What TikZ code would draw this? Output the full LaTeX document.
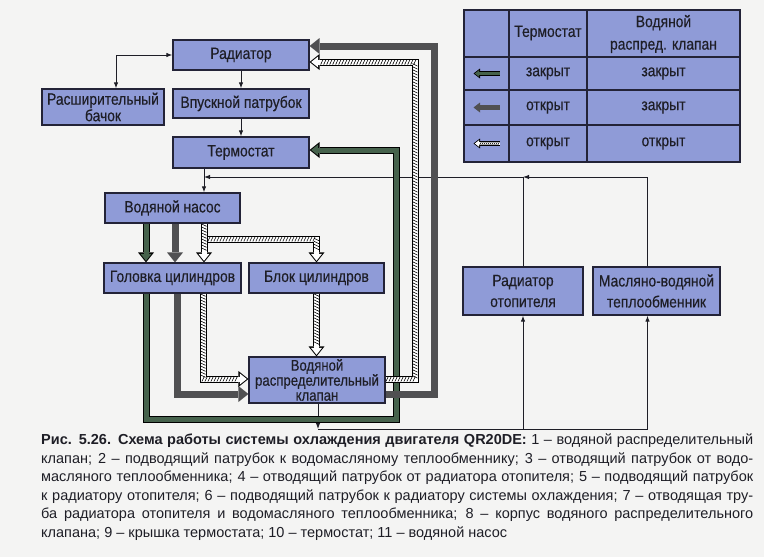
\documentclass[tikz,border=0pt]{standalone}
\usepackage{fontspec}
\setmainfont{Liberation Sans}
\newfontfamily\narrowfam[FakeStretch=0.85,FakeBold=0.3]{Liberation Sans}
\usetikzlibrary{arrows.meta,positioning,decorations.markings}

\definecolor{paper}{RGB}{244,244,243}
\definecolor{boxblue}{RGB}{143,155,215}
\definecolor{boxline}{RGB}{35,35,55}
\definecolor{ink}{RGB}{30,30,38}
\definecolor{pipegray}{RGB}{80,80,82}
\definecolor{pipegreen}{RGB}{70,98,76}

\newcommand{\boxfont}{\narrowfam\fontsize{16.3}{16.5}\selectfont}
\newcommand{\tightfont}{\narrowfam\fontsize{15.5}{15}\selectfont}
\newcommand{\loosefont}{\narrowfam\fontsize{16.3}{21}\selectfont}
\newcommand{\capfont}{\fontsize{14.5}{18.5}\selectfont}

\tikzset{
  box/.style={draw=boxline, fill=boxblue, line width=1.2pt, minimum width=136pt,
    minimum height=30pt, inner sep=1pt, font=\boxfont, text=ink, align=center},
  cell/.style={font=\boxfont, text=ink, align=center, inner sep=0pt},
  tableline/.style={draw=boxline, line width=1.4pt},
  link/.style={draw=ink, line width=1pt, >={Latex[length=6pt,width=4.5pt]}, ->},
  graypipe/.style={draw=pipegray, line width=7pt,
    -{Triangle[width=16pt,length=10pt,line width=0pt]}},
  greenpipe/.style={draw=pipegreen, line width=5pt, shorten >=1.6pt,
    -{Triangle[width=11.2pt,length=7pt,line width=0pt]},
    preaction={draw=black, line width=7pt, shorten >=0pt,
      -{Triangle[width=16pt,length=10pt,line width=0pt]}}},
  hatchpipe/.style={draw=white, line width=5pt, shorten >=1.6pt,
    -{Triangle[width=11.2pt,length=7pt,line width=0pt]},
    preaction={draw=black, line width=7pt, shorten >=0pt,
      -{Triangle[width=16pt,length=10pt,line width=0pt]}},
    postaction={decorate, decoration={markings,
      mark=between positions 1.5pt and -11pt step 3pt with
        {\draw[black, line width=0.6pt, shorten >=0pt, -] (-1.2pt,-2.5pt) -- (1.2pt,2.5pt);}}}},
  smallgray/.style={draw=pipegray, line width=4.5pt,
    -{Triangle[width=10pt,length=6.5pt,line width=0pt]}},
  smallgreen/.style={draw=pipegreen, line width=3pt, shorten >=1.4pt,
    -{Triangle[width=6.8pt,length=4.3pt,line width=0pt]},
    preaction={draw=black, line width=4.6pt, shorten >=0pt,
      -{Triangle[width=10pt,length=6.5pt,line width=0pt]}}},
  smallhatch/.style={draw=white, line width=3pt, shorten >=1.4pt,
    -{Triangle[width=6.8pt,length=4.3pt,line width=0pt]},
    preaction={draw=black, line width=4.6pt, shorten >=0pt,
      -{Triangle[width=10pt,length=6.5pt,line width=0pt]}},
    postaction={decorate, decoration={markings,
      mark=between positions 1pt and -7pt step 2pt with
        {\draw[black, line width=0.5pt, shorten >=0pt, -] (-0.8pt,-1.5pt) -- (0.8pt,1.5pt);}}}},
}

\begin{document}
\begin{tikzpicture}[x=1pt,y=-1pt]
\fill[paper] (0,0) rectangle (764,557);

% blocks of the circuit
\node[box] (rad) at (241,55) {Радиатор};
\node[box, minimum width=122pt, minimum height=36pt] (tank) at (103,107) {Расширительный\\бачок};
\node[box, minimum height=29pt] (inlet) at (241,103.5) {Впускной патрубок};
\node[box, minimum height=31pt] (thermo) at (241,152.5) {Термостат};
\node[box, minimum width=135pt] (pump) at (172.5,208) {Водяной насос};
\node[box, minimum width=137pt] (head) at (172.5,278) {Головка цилиндров};
\node[box, minimum width=135pt] (block) at (316.5,278) {Блок цилиндров};
\node[box, minimum height=46pt, inner sep=0.5pt, font=\tightfont] (valve) at (317,380) {Водяной\\распределительный\\клапан};
\node[box, minimum width=120pt, minimum height=48pt, font=\loosefont] (heater) at (523,291) {Радиатор\\отопителя};
\node[box, minimum width=127pt, minimum height=48pt, font=\loosefont] (oilex) at (656.5,291) {Масляно-водяной\\теплообменник};

% legend table
\draw[tableline, fill=boxblue] (464,10) rectangle (740,162);
\draw[tableline] (509,10) -- (509,162) (587,10) -- (587,162)
  (464,57) -- (740,57) (464,90) -- (740,90) (464,125) -- (740,125);
\node[cell] (h2) at (548,33) {Термостат};
\node[cell, font={\narrowfam\fontsize{16.3}{22.5}\selectfont}] (h3) at (663.5,34) {Водяной\\распред. клапан};
\node[cell] (a2) at (548,73.5) {закрыт};
\node[cell] (a3) at (663.5,73.5) {закрыт};
\node[cell] (b2) at (548,107.5) {открыт};
\node[cell] (b3) at (663.5,107.5) {закрыт};
\node[cell] (c2) at (548,143.5) {открыт};
\node[cell] (c3) at (663.5,143.5) {открыт};
\coordinate (a1) at (486.5,73.5);
\coordinate (b1) at (486.5,107.5);
\coordinate (c1) at (486.5,143.5);
\draw[smallgreen] ([xshift=13pt]a1) -- ([xshift=-13pt]a1);
\draw[smallgray] ([xshift=13pt]b1) -- ([xshift=-13pt]b1);
\draw[smallhatch] ([xshift=13pt]c1) -- ([xshift=-13pt]c1);

% thin connections
\coordinate (tj) at (204,177);
\coordinate (bj) at (318,429);
\draw[link] (rad) -- (inlet);
\draw[link] (inlet) -- (thermo);
\draw[link] (thermo.south -| tj) -- (pump.north -| tj);
\draw[link, <->] ([xshift=13pt]tank.north) |- (rad.west);
\draw[link] ([xshift=-9pt]oilex.north) |- (heater.north |- tj);
\draw[link] (heater.north) |- (tj);
\draw[link] (valve.south -| bj) -- (bj);
\draw[link] (bj) -| ([xshift=-9pt]oilex.south);
\draw[link] (heater.south |- bj) -- (heater.south);

% thermostat closed, valve closed
\draw[greenpipe] (pump.south -| 146,0) -- (head.north -| 146,0);
\draw[greenpipe] (head.south -| 146,0) |- (396,419) |- (thermo.east |- 0,150);
% thermostat open, valve closed
\draw[graypipe] (pump.south -| 175,0) -- (head.north -| 175,0);
\draw[graypipe] (head.south -| 177,0) |- (valve.west |- 0,394);
\draw[graypipe] (valve.east |- 0,394) -| (434,46) -- (rad.east |- 0,46);
% thermostat open, valve open
\coordinate (split) at (207.5,239);
\draw[hatchpipe] (pump.south -| 204,0) -- (head.north -| 204,0);
\draw[hatchpipe] (split) -| (block.north);
\draw[hatchpipe] (head.south -| 203,0) |- (valve.west |- 0,379);
\draw[hatchpipe] (block.south) -- (block.south |- valve.north);
\draw[hatchpipe] (valve.east |- 0,379) -| (415,62) -- (rad.east |- 0,62);

% caption
\node[anchor=north west, text width=712pt, align=justify, font=\capfont, text=ink, inner sep=0pt]
  (caption) at (41,434) {\noindent\hyphenpenalty=10000\tolerance=9999
  \textbf{Рис. 5.26. Схема работы системы охлаждения двигателя QR20DE:} 1 – водяной распределительный\linebreak
  клапан; 2 – подводящий патрубок к водомасляному теплообменнику; 3 – отводящий патрубок от водо-\linebreak
  масляного теплообменника; 4 – отводящий патрубок от радиатора отопителя; 5 – подводящий патрубок\linebreak
  к радиатору отопителя; 6 – подводящий патрубок к радиатору системы охлаждения; 7 – отводящая тру-\linebreak
  ба радиатора отопителя и водомасляного теплообменника; 8 – корпус водяного распределительного\linebreak
  клапана; 9 – крышка термостата; 10 – термостат; 11 – водяной насос};
\end{tikzpicture}
\end{document}
